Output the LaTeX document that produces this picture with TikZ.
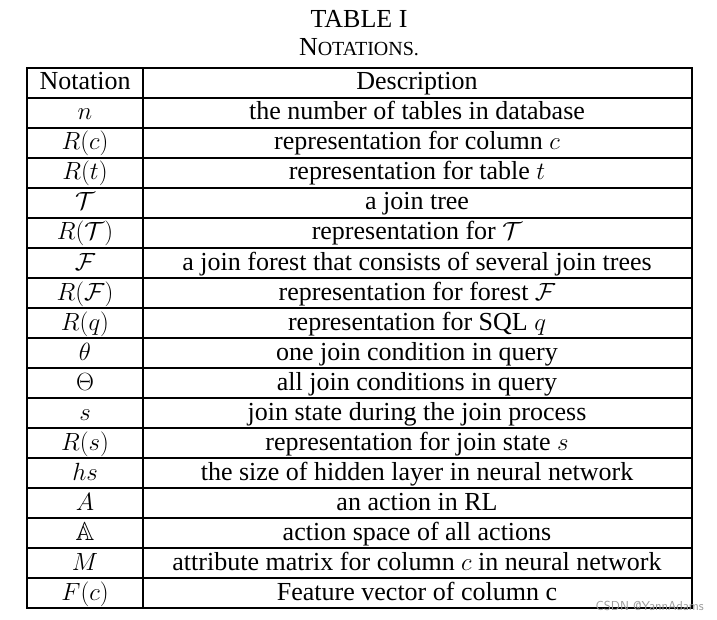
\documentclass[tikz,border=0pt]{standalone}
\usepackage{amssymb}
\usepackage{fontspec}
\setmainfont{Liberation Serif}
\begin{document}
\begin{tikzpicture}[x=1pt,y=-1pt,
  cell/.style={font=\fontsize{26}{28}\selectfont,inner sep=0pt,anchor=base},
  rule/.style={line width=1.1pt}]
\useasboundingbox (0,0) rectangle (717,620);
\node[cell] (t1) at (359,28) {TABLE I};
\node[cell] (t2) at (359,56) {N{\fontsize{20}{22}\selectfont OTATIONS.}};
\draw[rule] (27,68) rectangle (692,608);
\draw[rule] (143,68) -- (143,608);
\foreach \i in {1,...,17} \draw[rule] (27,68+30*\i) -- (692,68+30*\i);
\foreach [count=\i from 0] \a/\b in {
 {Notation}/{Description},
 {$n$}/{the number of tables in database},
 {$R(c)$}/{representation for column $c$},
 {$R(t)$}/{representation for table $t$},
 {$\mathcal{T}$}/{a join tree},
 {$R(\mathcal{T})$}/{representation for $\mathcal{T}$},
 {$\mathcal{F}$}/{a join forest that consists of several join trees},
 {$R(\mathcal{F})$}/{representation for forest $\mathcal{F}$},
 {$R(q)$}/{representation for SQL $q$},
 {$\theta$}/{one join condition in query},
 {$\Theta$}/{all join conditions in query},
 {$s$}/{join state during the join process},
 {$R(s)$}/{representation for join state $s$},
 {$hs$}/{the size of hidden layer in neural network},
 {$A$}/{an action in RL},
 {$\mathbb{A}$}/{action space of all actions},
 {$M$}/{attribute matrix for column $c$ in neural network},
 {$F(c)$}/{Feature vector of column c}}
 {
  \node[cell] (a\i) at (85,90+30*\i) {\a};
  \node[cell] (b\i) at (417,90+30*\i) {\b};
 }
\node[font=\sffamily\fontsize{13}{15}\selectfont,text=gray!80,anchor=east,inner sep=0pt] (wm) at (704,606) {CSDN @YannAdams};
\end{tikzpicture}
\end{document}
